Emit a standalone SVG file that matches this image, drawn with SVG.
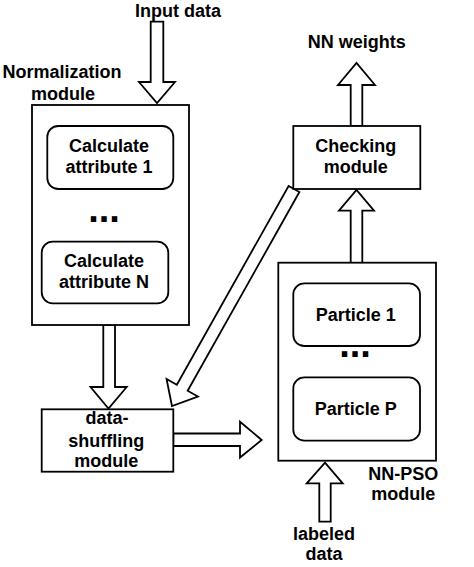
<svg xmlns="http://www.w3.org/2000/svg" width="474" height="567" viewBox="0 0 474 567">
<defs>
<style>
.box{fill:#fff;stroke:#000;stroke-width:1.8}
.arr{fill:#fff;stroke:#000;stroke-width:1.8;stroke-linejoin:miter}
text{font-family:"Liberation Sans",Arial,Helvetica,sans-serif;font-weight:bold;font-size:18px;fill:#000;text-anchor:middle}
.dots{font-size:38px}
</style>
</defs>
<rect width="474" height="567" fill="#fff"/>
<g id="connectors">
<path class="arr" d="M150.7,21.7 L163.3,21.7 L163.3,82 L175,82 L157,103 L139,82 L150.7,82 Z"/>
<path class="arr" d="M103.3,325 L115,325 L115,387 L126.7,387 L108.5,408.5 L90.5,387 L103.3,387 Z"/>
<path class="arr" d="M173.3,433.5 L240,433.5 L240,421.7 L261.7,440 L240,457.5 L240,446 L173.3,446 Z"/>
<path class="arr" d="M350.7,263 L362.3,263 L362.3,210.7 L374,210.7 L356.5,190 L339,210.7 L350.7,210.7 Z"/>
<path class="arr" d="M350.7,126 L362.3,126 L362.3,85 L375,85 L356.5,63 L338,85 L350.7,85 Z"/>
<path class="arr" d="M319.3,521.7 L330.7,521.7 L330.7,483.3 L342.7,483.3 L325,462.7 L306.7,483.3 L319.3,483.3 Z"/>
<path class="arr" transform="translate(294,189) rotate(119.35)" d="M0,-6.2 L228,-6.2 L228,-18 L249,0 L228,18 L228,6.2 L0,6.2 Z"/>
</g>
<g id="normalization">
<rect class="box" x="32" y="105" width="157" height="220"/>
<text x="62" y="78">Normalization</text>
<text x="63" y="100">module</text>
</g>
<g id="input-data">
<text x="178" y="16.5">Input data</text>
</g>
<g id="calc1">
<rect class="box" x="47.3" y="126" width="126" height="63" rx="11"/>
<text x="109" y="152.3">Calculate</text>
<text x="109" y="173.3">attribute 1</text>
</g>
<g id="dots1"><text class="dots" x="104" y="221.7">...</text></g>
<g id="calcN">
<rect class="box" x="41.7" y="241.7" width="126.6" height="61.6" rx="11"/>
<text x="104" y="266.7">Calculate</text>
<text x="104" y="288">attribute N</text>
</g>
<g id="shuffling">
<rect class="box" x="41.7" y="409.3" width="131.6" height="62.4"/>
<text x="107" y="424">data-</text>
<text x="106.3" y="446.7">shuffling</text>
<text x="106.3" y="467.3">module</text>
</g>
<g id="checking">
<rect class="box" x="293.3" y="126" width="127" height="63"/>
<text x="355.7" y="152">Checking</text>
<text x="355.7" y="173">module</text>
</g>
<g id="nn-weights"><text x="356.7" y="48">NN weights</text></g>
<g id="nnpso">
<rect class="box" x="278.3" y="262.7" width="157.7" height="198"/>
<text x="403.3" y="480">NN-PSO</text>
<text x="403.3" y="500">module</text>
</g>
<g id="particle1">
<rect class="box" x="293.3" y="283.3" width="126.7" height="62.7" rx="11"/>
<text x="355.7" y="320.7">Particle 1</text>
</g>
<g id="dots2"><text class="dots" x="355" y="356.7">...</text></g>
<g id="particleP">
<rect class="box" x="293.3" y="377.3" width="126.7" height="63.4" rx="11"/>
<text x="355.7" y="415">Particle P</text>
</g>
<g id="labeled-data">
<text x="324" y="540">labeled</text>
<text x="324" y="560">data</text>
</g>
</svg>
